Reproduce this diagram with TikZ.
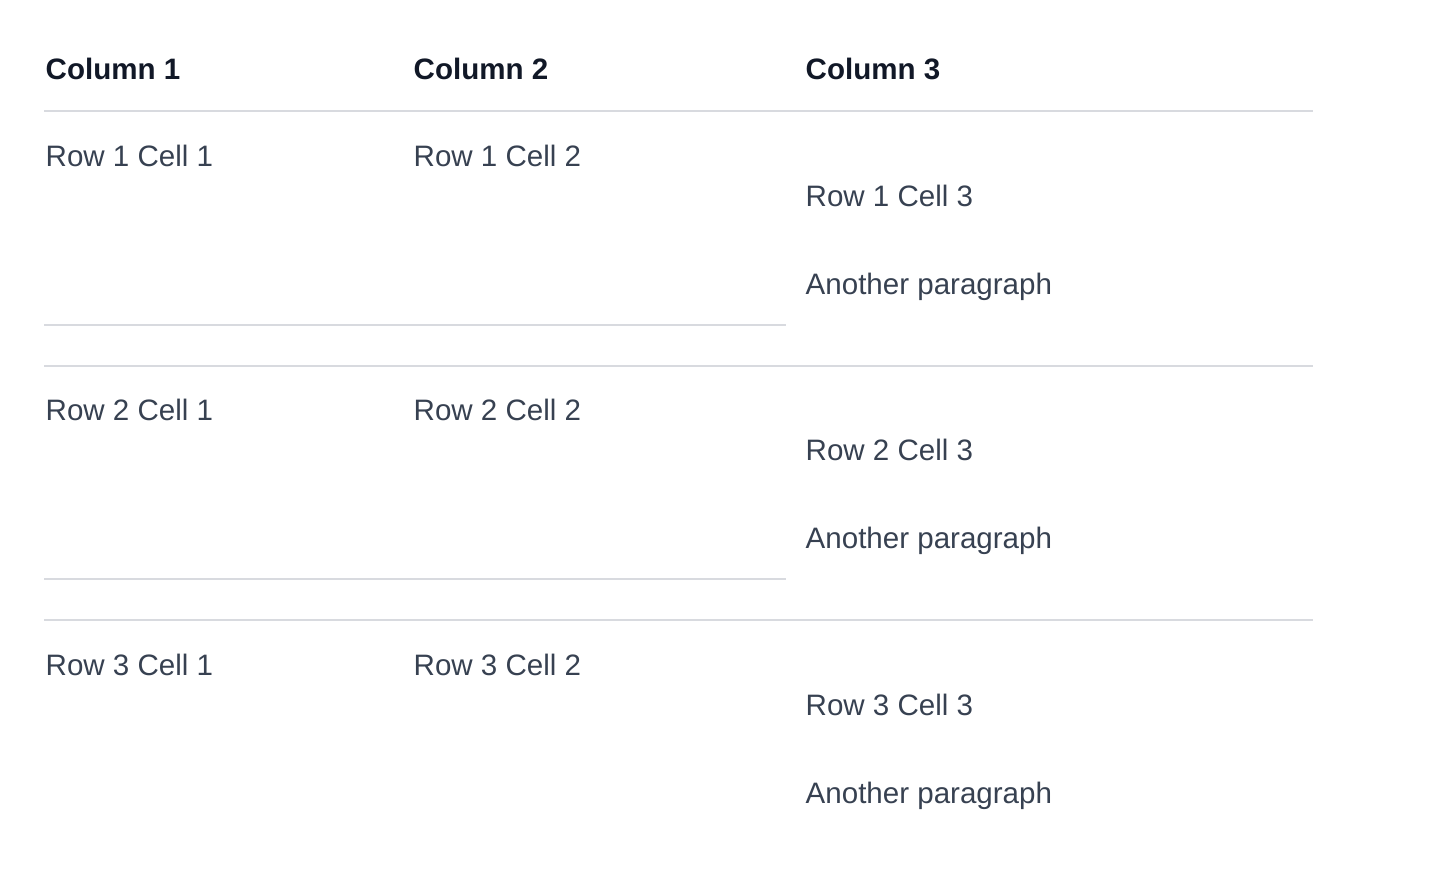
\documentclass[tikz,border=0pt]{standalone}
\usepackage{fontspec}
\setmainfont{Liberation Sans}
\definecolor{hd}{HTML}{111827}
\definecolor{bd}{HTML}{374151}
\definecolor{rl}{HTML}{D8DADF}
\begin{document}
\begin{tikzpicture}[x=0.01cm,y=-0.01cm,
  head/.style={anchor=base west,inner sep=0,text=hd,font=\fontsize{8.4}{10}\selectfont\bfseries},
  cell/.style={anchor=base west,inner sep=0,text=bd,font=\fontsize{8.4}{10}\selectfont},
  rule/.style={draw=rl,line width=0.45pt}]
\useasboundingbox (0,0) rectangle (1444,876);
\node[head] (h1) at (45,80) {Column 1};
\node[head] (h2) at (413,80) {Column 2};
\node[head] (h3) at (805,80) {Column 3};
\draw[rule] (44,111) -- (1313,111);
\foreach \r/\y in {1/167,2/421,3/676}{
  \node[cell] (c\r a) at (45,\y) {Row \r\ Cell 1};
  \node[cell] (c\r b) at (413,\y) {Row \r\ Cell 2};
  \node[cell] (c\r c) at (805,\y+40) {Row \r\ Cell 3};
  \node[cell] (c\r d) at (805,\y+128) {Another paragraph};
}
\draw[rule] (44,325) -- (786,325);
\draw[rule] (44,366) -- (1313,366);
\draw[rule] (44,579) -- (786,579);
\draw[rule] (44,620) -- (1313,620);
\end{tikzpicture}
\end{document}
